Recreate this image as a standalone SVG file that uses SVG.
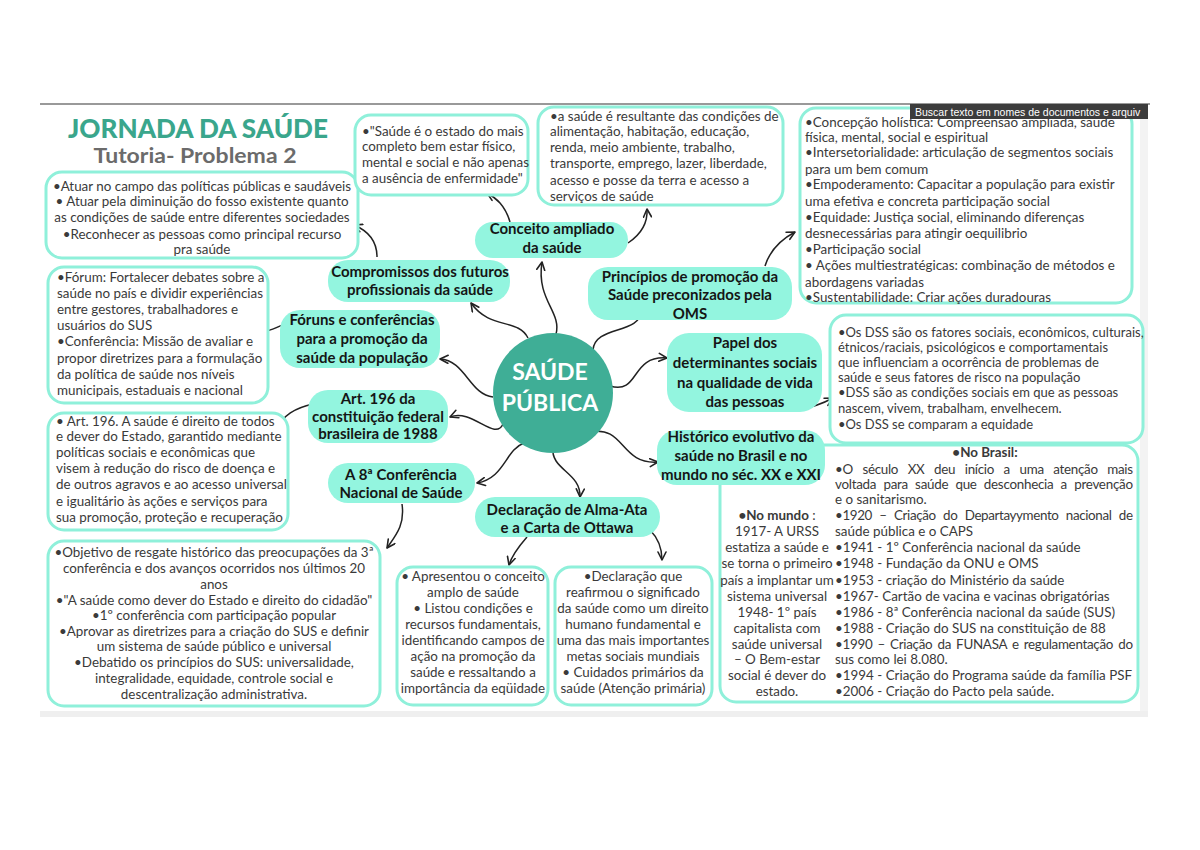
<svg xmlns="http://www.w3.org/2000/svg" width="1200" height="850" viewBox="0 0 1200 850">
<defs>
<marker id="ah" viewBox="0 0 10 10" refX="9" refY="5" markerWidth="10" markerHeight="10" markerUnits="userSpaceOnUse" orient="auto">
<path d="M1,1 L9,5 L1,9" fill="none" stroke="#222" stroke-width="1.6" stroke-linecap="round" stroke-linejoin="round"/>
</marker>
<style>
.box{fill:#fff;stroke:#8ff0da;stroke-width:3}
.node{fill:#93f5df;stroke:none}
.bt{font-family:Lato,"Liberation Sans",sans-serif;font-size:13.4px;fill:#3a3a3a}
.sm{font-size:13px}
.c{text-anchor:middle}
.nt{font-family:Lato,"Liberation Sans",sans-serif;font-size:15px;font-weight:700;fill:#151515;text-anchor:middle}
.conn path{fill:none;stroke:#222;stroke-width:1.5;marker-end:url(#ah)}
</style>
</defs>
<rect x="0" y="0" width="1200" height="850" fill="#fff"/>
<line x1="40" y1="104" x2="1150" y2="104" stroke="#777" stroke-width="1.5"/>
<rect x="1140" y="105" width="8" height="610" fill="#f3f3f3"/>
<rect x="40" y="711" width="1108" height="6" fill="#efefef"/>

<g id="title">
<text x="198" y="138" text-anchor="middle" font-family="Lato,'Liberation Sans',sans-serif" font-size="27" font-weight="900" fill="#3aa68c" textLength="260" lengthAdjust="spacingAndGlyphs">JORNADA DA SAÚDE</text>
<text x="195" y="163" text-anchor="middle" font-family="Lato,'Liberation Sans',sans-serif" font-size="21" font-weight="700" fill="#6b6b6b" textLength="203" lengthAdjust="spacingAndGlyphs">Tutoria- Problema 2</text>
</g>

<g class="conn" id="connectors">
<path d="M556,334 C562,312 536,300 542,262"/>
<path d="M528,338 C518,318 490,330 471,303"/>
<path d="M493,397 C470,395 465,360 440,359"/>
<path d="M503,424 C495,442 472,408 450,417"/>
<path d="M524,443 C505,450 505,478 477,483"/>
<path d="M553,447 C550,470 581,472 580,497"/>
<path d="M593,350 C595,325 640,335 642,310"/>
<path d="M610,386 C640,395 630,355 667,358"/>
<path d="M590,432 C625,425 620,465 658,462"/>
<path d="M377,257 C377,240 366,230 354,225"/>
<path d="M510,222 C505,205 496,198 487,193"/>
<path d="M628,243 C640,235 648,225 647,209"/>
<path d="M765,266 C770,250 780,240 795,232"/>
<path d="M289,322 C275,328 265,335 248,330"/>
<path d="M313,404 C295,408 283,415 276,430"/>
<path d="M402,504 C405,525 396,535 387,548"/>
<path d="M527,537 C520,545 512,555 509,565"/>
<path d="M650,530 C660,540 662,550 662,560"/>
<path d="M797,410 C810,408 822,404 833,398"/>
<path d="M788,487 C795,497 805,503 818,507"/>
</g>

<g id="box-compromissos">
<rect class="box" x="46" y="172" width="312" height="86" rx="16"/>
<text class="bt c" x="202" y="191">•Atuar no campo das políticas públicas e saudáveis</text>
<text class="bt c" x="202" y="206">• Atuar pela diminuição do fosso existente quanto</text>
<text class="bt c" x="202" y="222">as condições de saúde entre diferentes sociedades</text>
<text class="bt c" x="202" y="239">•Reconhecer as pessoas como principal recurso</text>
<text class="bt c" x="202" y="254">pra saúde</text>
</g>

<g id="box-foruns">
<rect class="box" x="48" y="267" width="220" height="136" rx="16"/>
<text class="bt" x="57" y="282">•Fórum: Fortalecer debates sobre a</text>
<text class="bt" x="57" y="298">saúde no país e dividir experiências</text>
<text class="bt" x="57" y="314">entre gestores, trabalhadores e</text>
<text class="bt" x="57" y="330">usuários do SUS</text>
<text class="bt" x="57" y="346">•Conferência: Missão de avaliar e</text>
<text class="bt" x="57" y="363">propor diretrizes para a formulação</text>
<text class="bt" x="57" y="379">da política de saúde nos níveis</text>
<text class="bt" x="57" y="395">municipais, estaduais e nacional</text>
</g>

<g id="box-art196">
<rect class="box" x="48" y="413" width="240" height="117" rx="16"/>
<text class="bt" x="56" y="426">• Art. 196. A saúde é direito de todos</text>
<text class="bt" x="56" y="441">e dever do Estado, garantido mediante</text>
<text class="bt" x="56" y="457">políticas sociais e econômicas que</text>
<text class="bt" x="56" y="473">visem à redução do risco de doença e</text>
<text class="bt" x="56" y="489">de outros agravos e ao acesso universal</text>
<text class="bt" x="56" y="506">e igualitário às ações e serviços para</text>
<text class="bt" x="56" y="522">sua promoção, proteção e recuperação</text>
</g>

<g id="box-8conf">
<rect class="box" x="48" y="541" width="332" height="165" rx="16"/>
<text class="bt c" x="214" y="557">•Objetivo de resgate histórico das preocupações da 3ª</text>
<text class="bt c" x="214" y="573">conferência e dos avanços ocorridos nos últimos 20</text>
<text class="bt c" x="214" y="589">anos</text>
<text class="bt c" x="214" y="605">•"A saúde como dever do Estado e direito do cidadão"</text>
<text class="bt c" x="214" y="620">•1º conferência com participação popular</text>
<text class="bt c" x="214" y="636">•Aprovar as diretrizes para a criação do SUS e definir</text>
<text class="bt c" x="214" y="651">um sistema de saúde público e universal</text>
<text class="bt c" x="214" y="667">•Debatido os  princípios do SUS: universalidade,</text>
<text class="bt c" x="214" y="683">integralidade, equidade, controle social e</text>
<text class="bt c" x="214" y="699">descentralização administrativa.</text>
</g>

<g id="box-quote">
<rect class="box" x="355" y="115" width="173" height="80" rx="16"/>
<text class="bt" x="362" y="136">•"Saúde é o estado do mais</text>
<text class="bt" x="362" y="151">completo bem estar físico,</text>
<text class="bt" x="362" y="167">mental e social e não apenas</text>
<text class="bt" x="362" y="183">a ausência de enfermidade"</text>
</g>

<g id="box-resultante">
<rect class="box" x="538" y="107" width="245" height="98" rx="16"/>
<text class="bt" x="550" y="121">•a saúde é resultante das condições de</text>
<text class="bt" x="550" y="136">alimentação, habitação, educação,</text>
<text class="bt" x="550" y="152">renda, meio ambiente, trabalho,</text>
<text class="bt" x="550" y="168">transporte, emprego, lazer, liberdade,</text>
<text class="bt" x="550" y="185">acesso e posse da terra e acesso a</text>
<text class="bt" x="550" y="201">serviços de saúde</text>
</g>

<g id="box-principios">
<rect class="box" x="800" y="108" width="332" height="195" rx="16"/>
<text class="bt" x="805" y="127">•Concepção holística: Compreensão ampliada, saúde</text>
<text class="bt" x="805" y="142">física, mental, social e espiritual</text>
<text class="bt" x="805" y="157">•Intersetorialidade: articulação de segmentos sociais</text>
<text class="bt" x="805" y="174">para um bem comum</text>
<text class="bt" x="805" y="189">•Empoderamento: Capacitar a população para  existir</text>
<text class="bt" x="805" y="206">uma efetiva e concreta participação social</text>
<text class="bt" x="805" y="222">•Equidade: Justiça social, eliminando diferenças</text>
<text class="bt" x="805" y="238">desnecessárias para atingir oequilibrio</text>
<text class="bt" x="805" y="254">•Participação social</text>
<text class="bt" x="805" y="270">• Ações multiestratégicas: combinação de métodos e</text>
<text class="bt" x="805" y="287">abordagens variadas</text>
<text class="bt" x="805" y="302">•Sustentabilidade: Criar ações duradouras</text>
</g>

<g id="box-dss">
<rect class="box" x="830" y="315" width="313" height="128" rx="16"/>
<text class="bt sm" x="838" y="337">•Os DSS são os fatores sociais, econômicos, culturais,</text>
<text class="bt sm" x="838" y="352">étnicos/raciais, psicológicos e comportamentais</text>
<text class="bt sm" x="838" y="367">que influenciam a ocorrência de problemas de</text>
<text class="bt sm" x="838" y="382">saúde e seus fatores de risco na população</text>
<text class="bt sm" x="838" y="397">•DSS são as condições sociais em que as pessoas</text>
<text class="bt sm" x="838" y="413">nascem, vivem, trabalham, envelhecem.</text>
<text class="bt sm" x="838" y="429">•Os DSS se comparam a equidade</text>
</g>

<g id="box-historico">
<rect class="box" x="720" y="445" width="418" height="257" rx="16"/>
<text class="bt c" x="985" y="457" font-weight="700">•No Brasil:</text>
<text class="bt" x="835" y="474" word-spacing="6.5" textLength="298" lengthAdjust="spacing">•O século XX deu início a uma atenção mais</text>
<text class="bt" x="835" y="489" word-spacing="4" textLength="298" lengthAdjust="spacing">voltada para saúde que desconhecia a prevenção</text>
<text class="bt" x="835" y="504">e o sanitarismo.</text>
<text class="bt" x="835" y="520" word-spacing="4.3" textLength="298" lengthAdjust="spacing">•1920 – Criação do Departayymento nacional de</text>
<text class="bt" x="835" y="536">saúde pública e o CAPS</text>
<text class="bt" x="835" y="552">•1941 - 1º Conferência nacional da saúde</text>
<text class="bt" x="835" y="568">•1948 - Fundação da ONU e OMS</text>
<text class="bt" x="835" y="585">•1953 - criação do Ministério da saúde</text>
<text class="bt" x="835" y="601">•1967- Cartão de vacina e vacinas obrigatórias</text>
<text class="bt" x="835" y="617">•1986 - 8ª Conferência nacional da saúde (SUS)</text>
<text class="bt" x="835" y="633">•1988 - Criação do SUS na constituição de 88</text>
<text class="bt" x="835" y="649" word-spacing="2" textLength="298" lengthAdjust="spacing">•1990 – Criação da FUNASA  e regulamentação do</text>
<text class="bt" x="835" y="664">sus como lei 8.080.</text>
<text class="bt" x="835" y="680">•1994 - Criação do Programa saúde da família PSF</text>
<text class="bt" x="835" y="696">•2006 - Criação do Pacto pela saúde.</text>
<text class="bt c" x="777" y="520"><tspan font-weight="700">•No mundo</tspan> :</text>
<text class="bt c" x="777" y="536">1917- A URSS</text>
<text class="bt c" x="777" y="552">estatiza a saúde e</text>
<text class="bt c" x="777" y="568">se torna o primeiro</text>
<text class="bt c" x="777" y="585">país a implantar um</text>
<text class="bt c" x="777" y="601">sistema universal</text>
<text class="bt c" x="777" y="617">1948- 1º país</text>
<text class="bt c" x="777" y="633">capitalista com</text>
<text class="bt c" x="777" y="649">saúde universal</text>
<text class="bt c" x="777" y="664">– O Bem-estar</text>
<text class="bt c" x="777" y="680">social  é dever do</text>
<text class="bt c" x="777" y="696">estado.</text>
</g>

<g id="box-almaata">
<rect class="box" x="397" y="567" width="151" height="138" rx="16"/>
<text class="bt c" x="473" y="581">• Apresentou o conceito</text>
<text class="bt c" x="473" y="597">amplo de saúde</text>
<text class="bt c" x="473" y="613">• Listou condições e</text>
<text class="bt c" x="473" y="629">recursos fundamentais,</text>
<text class="bt c" x="473" y="645">identificando campos de</text>
<text class="bt c" x="473" y="661">ação na promoção da</text>
<text class="bt c" x="473" y="677">saúde e ressaltando a</text>
<text class="bt c" x="473" y="693">importância da eqüidade</text>
</g>

<g id="box-ottawa">
<rect class="box" x="555" y="567" width="157" height="138" rx="16"/>
<text class="bt c" x="633" y="581">•Declaração que</text>
<text class="bt c" x="633" y="597">reafirmou o significado</text>
<text class="bt c" x="633" y="613">da saúde como um direito</text>
<text class="bt c" x="633" y="629">humano fundamental e</text>
<text class="bt c" x="633" y="645">uma das mais importantes</text>
<text class="bt c" x="633" y="661">metas sociais mundiais</text>
<text class="bt c" x="633" y="677">• Cuidados primários da</text>
<text class="bt c" x="633" y="693">saúde (Atenção primária)</text>
</g>

<g id="node-center">
<circle cx="553" cy="393" r="60" fill="#3fae96"/>
<text x="550" y="380" text-anchor="middle" font-family="Lato,'Liberation Sans',sans-serif" font-size="23" font-weight="700" fill="#fff">SAÚDE</text>
<text x="550" y="411" text-anchor="middle" font-family="Lato,'Liberation Sans',sans-serif" font-size="23" font-weight="700" fill="#fff">PÚBLICA</text>
</g>

<g id="node-conceito">
<rect class="node" x="475" y="222" width="153" height="36" rx="18"/>
<text class="nt" x="552" y="234">Conceito ampliado</text>
<text class="nt" x="552" y="253">da saúde</text>
</g>

<g id="node-compromissos">
<rect class="node" x="328" y="260" width="182" height="42" rx="20"/>
<text class="nt" x="420" y="277">Compromissos dos futuros</text>
<text class="nt" x="420" y="295">profissionais da saúde</text>
</g>

<g id="node-foruns">
<rect class="node" x="280" y="310" width="160" height="58" rx="20"/>
<text class="nt" x="362" y="325">Fóruns e conferências</text>
<text class="nt" x="362" y="344">para a promoção da</text>
<text class="nt" x="362" y="363">saúde da população</text>
</g>

<g id="node-art196">
<rect class="node" x="308" y="390" width="140" height="53" rx="20"/>
<text class="nt" x="378" y="404">Art. 196 da</text>
<text class="nt" x="378" y="422">constituição federal</text>
<text class="nt" x="378" y="439">brasileira de 1988</text>
</g>

<g id="node-8conf">
<rect class="node" x="328" y="463" width="147" height="40" rx="20"/>
<text class="nt" x="401" y="480">A 8ª Conferência</text>
<text class="nt" x="401" y="498">Nacional de Saúde</text>
</g>

<g id="node-declaracao">
<rect class="node" x="475" y="497" width="185" height="40" rx="20"/>
<text class="nt" x="567" y="515">Declaração de Alma-Ata</text>
<text class="nt" x="567" y="533">e a Carta de Ottawa</text>
</g>

<g id="node-principios">
<rect class="node" x="588" y="267" width="204" height="53" rx="20"/>
<text class="nt" x="690" y="282">Princípios de promoção da</text>
<text class="nt" x="690" y="300">Saúde preconizados pela</text>
<text class="nt" x="690" y="319">OMS</text>
</g>

<g id="node-papel">
<rect class="node" x="667" y="333" width="155" height="79" rx="22"/>
<text class="nt" x="745" y="348">Papel dos</text>
<text class="nt" x="745" y="368">determinantes sociais</text>
<text class="nt" x="745" y="388">na qualidade de vida</text>
<text class="nt" x="745" y="407">das pessoas</text>
</g>

<g id="node-historico">
<rect class="node" x="657" y="430" width="168" height="55" rx="20"/>
<text class="nt" x="741" y="442">Histórico evolutivo da</text>
<text class="nt" x="741" y="461">saúde no Brasil e no</text>
<text class="nt" x="741" y="480">mundo no séc. XX e XXI</text>
</g>

<g id="tooltip">
<rect x="910" y="104" width="238" height="15" fill="#3c3c3c"/>
<text x="915" y="115.5" font-family="'Liberation Sans',sans-serif" font-size="10.5" fill="#fff">Buscar texto em nomes de documentos e arquiv</text>
</g>
</svg>
